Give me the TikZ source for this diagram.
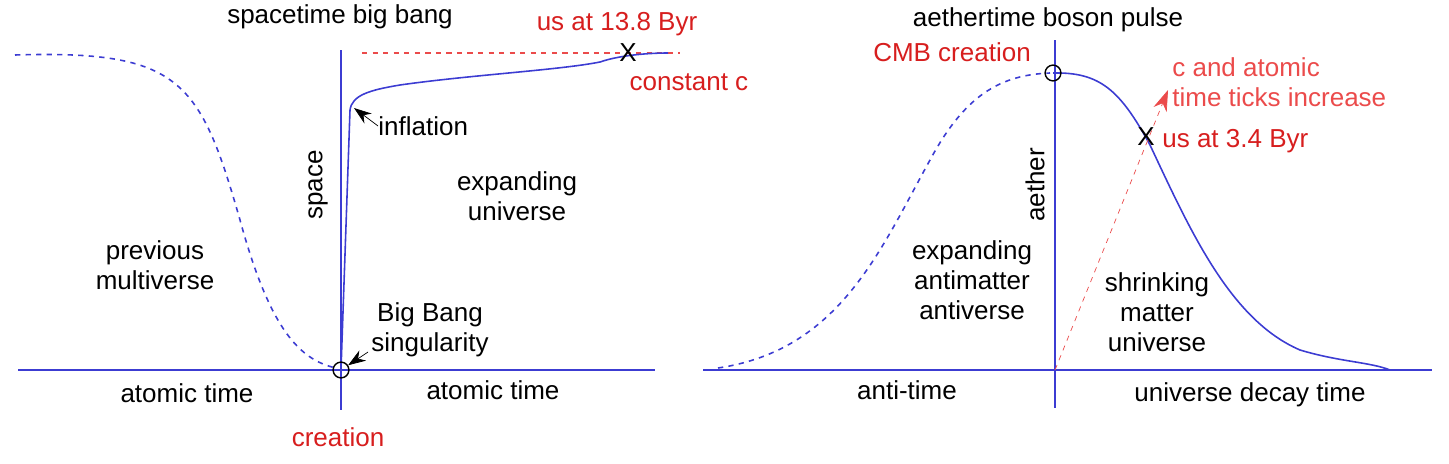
\documentclass[tikz,border=0pt]{standalone}
\usepackage{fontspec}
\setmainfont{Liberation Sans}
\usetikzlibrary{arrows.meta}
\definecolor{cb}{RGB}{60,60,210}
\definecolor{cr}{RGB}{215,30,30}
\definecolor{cr2}{RGB}{235,75,75}
\begin{document}
\begin{tikzpicture}[x=0.02cm,y=-0.02cm,
  lbl/.style={font=\fontsize{14.8}{17}\selectfont,align=center,inner sep=0},
  rl/.style={lbl,text=cr},
  ax/.style={cb,line width=0.8pt},
  cv/.style={cb,line width=0.9pt}]
\useasboundingbox (0,0) rectangle (1449,463);
% left panel
\coordinate (hl) at (18,370); \coordinate (hr) at (655,370);
\coordinate (vt) at (341,50); \coordinate (vb) at (341,410);
\draw[ax] (hl) -- (hr); \draw[ax] (vt) -- (vb);
\draw[draw=cr2,dashed,line width=0.6pt] (362,53) -- (680,53);
\draw[cv] (341,370) -- (350,110) .. controls (352,95) and (370,90) .. (400,85)
  .. controls (470,75) and (560,70) .. (600,62) .. controls (620,55) and (650,53) .. (668,53);
\draw[cv,dashed] (15,55) .. controls (180,50) and (200,80) .. (240,220)
  .. controls (270,330) and (300,360) .. (336,368);
\node[draw,circle,inner sep=0,minimum size=9pt,line width=0.8pt] (o1) at (341,370) {};
\node[lbl] (x1) at (628,53) {X};
\node[lbl] (t1) at (340,17) {spacetime big bang};
\node[rl] (t2) at (617,24) {us at 13.8 Byr};
\node[rl] (t3) at (689,82) {constant c};
\node[lbl,anchor=west] (inf) at (378,126) {inflation};
\coordinate (infp) at (354,108);
\draw[-{Stealth[length=10pt,width=7pt]}] (inf.west) -- (infp);
\node[lbl,rotate=90] (sp) at (318,185) {space};
\node[lbl] (eu) at (517,196) {expanding\\universe};
\node[lbl] (pm) at (155,265) {previous\\multiverse};
\node[lbl] (bb) at (430,330) {Big Bang\\singularity};
\draw[-{Stealth[length=10pt,width=7pt]}] (368,352) -- (o1);
\node[lbl] at (187,393) {atomic time};
\node[lbl] at (493,390) {atomic time};
\node[rl] at (338,437) {creation};
% right panel
\draw[ax] (703,370) -- (1432,370); \draw[ax] (1055,40) -- (1055,408);
\draw[cv] (1053,73) .. controls (1100,72) and (1120,90) .. (1150,145)
  .. controls (1190,230) and (1230,320) .. (1300,350) .. controls (1340,362) and (1370,362) .. (1390,370);
\draw[cv,dashed] (718,368) .. controls (840,350) and (880,250) .. (930,160)
  .. controls (965,95) and (1000,75) .. (1050,73);
\node[draw,circle,inner sep=0,minimum size=9pt,line width=0.8pt] (o2) at (1053,73) {};
\coordinate (org) at (1055,370); \coordinate (arr) at (1168,90);
\draw[cr2,dashed,-{Stealth[length=12pt,width=8pt]}] (org) -- (arr);
\node[lbl] at (1146,137) {X};
\node[lbl] at (1048,20) {aethertime boson pulse};
\node[rl] at (952,52) {CMB creation};
\node[lbl,text=cr2,align=left,anchor=west] at (1172,82) {c and atomic\\time ticks increase};
\node[rl,anchor=west] at (1162,141) {us at 3.4 Byr};
\node[lbl,rotate=90] at (1035,185) {aether};
\node[lbl] at (972,280) {expanding\\antimatter\\antiverse};
\node[lbl] at (1157,312) {shrinking\\matter\\universe};
\node[lbl] at (907,390) {anti-time};
\node[lbl] at (1250,395) {universe decay time};
\end{tikzpicture}
\end{document}
